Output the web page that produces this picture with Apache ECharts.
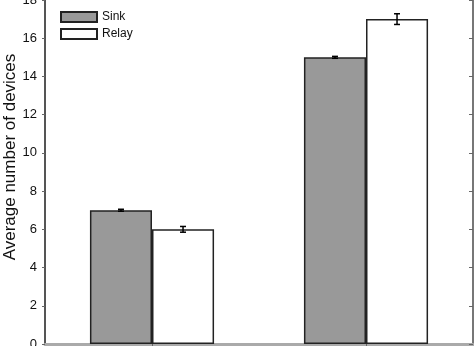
<!DOCTYPE html>
<html>
<head>
<meta charset="utf-8">
<script src="https://cdn.jsdelivr.net/npm/echarts@6/dist/echarts.min.js"></script>
<style>
html,body{margin:0;padding:0;background:#fff;}
#chart{width:474px;height:346px;}
</style>
</head>
<body>
<div id="chart"></div>
<script>
const categories = ['Scenario 1', 'Scenario 2'];
const sinkValues = [7, 15];
const sinkErrors = [0.05, 0.05];
const relayValues = [6, 17];
const relayErrors = [0.15, 0.28];
const yTicks = [0, 2, 4, 6, 8, 10, 12, 14, 16, 18];

const GAP = 0.42;
const FONT = 'Liberation Sans, Arial, Helvetica, sans-serif';

function errorSeries(name, values, errors, side) {
  const data = values.map((v, i) => [i, v - errors[i], v + errors[i]]);
  return {
    type: 'custom',
    name: name + ' error',
    z: 10,
    silent: true,
    data: data,
    encode: { x: 0, y: [1, 2] },
    renderItem: function (params, api) {
      const idx = api.value(0);
      const lo = api.coord([idx, api.value(1)]);
      const hi = api.coord([idx, api.value(2)]);
      const band = api.size([1, 0])[0];
      const off = side * band * (1 - GAP) / 4;
      const x = lo[0] + off;
      const cap = 3;
      const st = { stroke: '#000', lineWidth: 1.5 };
      return {
        type: 'group',
        children: [
          { type: 'line', shape: { x1: x, y1: lo[1], x2: x, y2: hi[1] }, style: st },
          { type: 'line', shape: { x1: x - cap, y1: lo[1], x2: x + cap, y2: lo[1] }, style: st },
          { type: 'line', shape: { x1: x - cap, y1: hi[1], x2: x + cap, y2: hi[1] }, style: st }
        ]
      };
    }
  };
}

const chart = echarts.init(document.getElementById('chart'), null, { renderer: 'canvas' });
chart.setOption({
  animation: false,
  backgroundColor: '#fff',
  textStyle: { fontFamily: FONT },
  grid: { left: 45, right: 1, top: 0, bottom: 2, containLabel: false, outerBoundsMode: 'none' },
  legend: {
    orient: 'vertical',
    left: 60,
    top: 11,
    icon: 'rect',
    itemWidth: 36,
    itemHeight: 10,
    itemGap: 5,
    padding: 0,
    data: ['Sink', 'Relay'],
    textStyle: { fontSize: 12, color: '#111', fontFamily: FONT }
  },
  xAxis: [
    {
      type: 'category',
      data: categories,
      position: 'bottom',
      axisLine: { show: true, lineStyle: { color: '#aaaaaa', width: 3 } },
      axisTick: { show: false },
      axisLabel: { show: false },
      splitLine: { show: false }
    },
    {
      type: 'category',
      data: categories,
      position: 'top',
      axisLine: { show: false },
      axisTick: { show: true, inside: true, alignWithLabel: true, length: 4, lineStyle: { color: '#666', width: 1 } },
      axisLabel: { show: false },
      splitLine: { show: false }
    }
  ],
  yAxis: [
    {
      type: 'value',
      min: 0,
      max: 18,
      interval: 2,
      name: 'Average number of devices',
      nameLocation: 'middle',
      nameGap: 26,
      nameMoveOverlap: false,
      nameTextStyle: { fontSize: 17, color: '#111', fontFamily: FONT, padding: [0, 0, 0, 30] },
      axisLine: { show: true, lineStyle: { color: '#555', width: 2 } },
      axisTick: { show: true, inside: false, length: 3, lineStyle: { color: '#666', width: 1 } },
      axisLabel: {
        fontSize: 13, color: '#111', margin: 8, fontFamily: FONT,
        formatter: function (v) { return yTicks.indexOf(v) >= 0 ? String(v) : ''; }
      },
      splitLine: { show: false }
    },
    {
      type: 'value',
      min: 0,
      max: 18,
      interval: 2,
      position: 'right',
      axisLine: { show: true, lineStyle: { color: '#777', width: 3 } },
      axisTick: { show: true, inside: true, length: 4, lineStyle: { color: '#666', width: 1 } },
      axisLabel: { show: false },
      splitLine: { show: false }
    }
  ],
  series: [
    {
      name: 'Sink',
      type: 'bar',
      data: sinkValues,
      barGap: '0%',
      barCategoryGap: (GAP * 100) + '%',
      itemStyle: { color: '#999999', borderColor: '#222', borderWidth: 1.5 }
    },
    {
      name: 'Relay',
      type: 'bar',
      data: relayValues,
      barGap: '0%',
      barCategoryGap: (GAP * 100) + '%',
      itemStyle: { color: '#ffffff', borderColor: '#222', borderWidth: 1.5 }
    },
    errorSeries('Sink', sinkValues, sinkErrors, -1),
    errorSeries('Relay', relayValues, relayErrors, 1)
  ]
});
</script>
</body>
</html>
